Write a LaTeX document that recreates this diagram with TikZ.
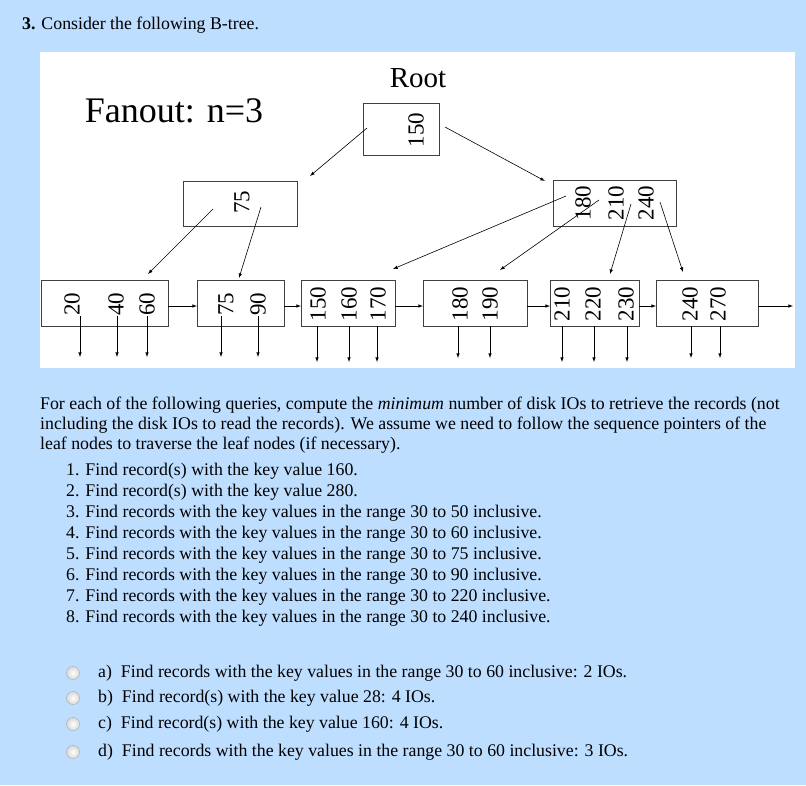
\documentclass[tikz,border=0pt]{standalone}
\usepackage{fontspec}
\setmainfont{Liberation Serif}
\begin{document}
\begin{tikzpicture}[x=1pt,y=-1pt,
  bx/.style={draw=black!75,line width=0.8pt,fill=white},
  key/.style={rotate=90,font=\fontsize{23}{23}\selectfont,inner sep=0pt},
  ar/.style={-latex,line width=0.6pt},
  txt/.style={anchor=west,font=\fontsize{17.8}{20}\selectfont,inner sep=0pt}]
\fill[fill={rgb,255:red,190;green,222;blue,255}] (0,0) rectangle (806,785);
\useasboundingbox (0,0) rectangle (806,785);
\fill[white] (40,52) rectangle (795,368);
\node[txt] (q) at (22,25) {\textbf{3.} Consider the following B-tree.};
\node[font=\fontsize{29}{29}\selectfont] (rootl) at (418,78) {Root};
\node[font=\fontsize{36}{36}\selectfont] (fan) at (174,111) {Fanout: n=3};
% internal nodes
\draw[bx] (363,103) rectangle (439,155); \node[key] (k150) at (416,130) {150};
\draw[bx] (183,181) rectangle (297,226); \node[key] (k75) at (242,202) {75};
\draw[bx] (553,180) rectangle (676,226);
\node[key] (k180) at (583,203) {180};\node[key] (k210) at (616,203) {210};\node[key] (k240) at (646,203) {240};
% leaves
\foreach \a/\b in {41/168,197/284,301/395,423/527,550/639,656/758}{\draw[bx] (\a,280) rectangle (\b,326);}
\foreach \x/\t in {72/20,116/40,147/60,226/75,258/90,318/150,349/160,378/170,460/180,490/190,562/210,593/220,626/230,690/240,718/270}{\node[key] at (\x,304) {\t};}
% tree pointers
\coordinate (r1) at (367,128); \coordinate (r2) at (445,127);
\draw[ar] (r1) -- (310,176);
\draw[ar] (r2) -- (545,181);
\draw[ar] (213,209) -- (148,274);
\draw[ar] (261,207) -- (239,278);
\draw[ar] (566,196) -- (393,269);
\draw[ar] (599,200) -- (500,270);
\draw[ar] (631,204) -- (610,274);
\draw[ar] (660,202) -- (683,272);
% sequence pointers
\foreach \a/\b in {168/197,284/301,395/423,527/550,639/656,758/793}{\draw[ar] (\a,306) -- (\b,306);}
% record pointers
\foreach \x in {80,117,147,221,258}{\draw[ar] (\x,316) -- (\x,357);}
\foreach \x in {317,349,377,562,594,627}{\draw[ar] (\x,326) -- (\x,362);}
\foreach \x in {458,490,691,720}{\draw[ar] (\x,326) -- (\x,358);}
% text
\node[txt,text width=752pt,align=flush left,anchor=north west] (para) at (40,397) {For each of the following queries, compute the \emph{minimum} number of disk IOs to retrieve the records (not including the disk IOs to read the records). We assume we need to follow the sequence pointers of the leaf nodes to traverse the leaf nodes (if necessary).};
\node[txt,anchor=north west,align=left,font=\fontsize{17.8}{21}\selectfont] (list) at (66,463) {1. Find record(s) with the key value 160.\\
2. Find record(s) with the key value 280.\\
3. Find records with the key values in the range 30 to 50 inclusive.\\
4. Find records with the key values in the range 30 to 60 inclusive.\\
5. Find records with the key values in the range 30 to 75 inclusive.\\
6. Find records with the key values in the range 30 to 90 inclusive.\\
7. Find records with the key values in the range 30 to 220 inclusive.\\
8. Find records with the key values in the range 30 to 240 inclusive.};
\foreach \y/\t [count=\i] in {673/{a)\ \ Find records with the key values in the range 30 to 60 inclusive: 2 IOs.},698/{b)\ \ Find record(s) with the key value 28: 4 IOs.},724/{c)\ \ Find record(s) with the key value 160: 4 IOs.},752/{d)\ \ Find records with the key values in the range 30 to 60 inclusive: 3 IOs.}}{
  \shade[inner color=white,outer color=black!15,draw=black!35] (73,\y) circle (6.5);
  \node[txt] (opt\i) at (98,\y) {\t};}
\end{tikzpicture}
\end{document}
